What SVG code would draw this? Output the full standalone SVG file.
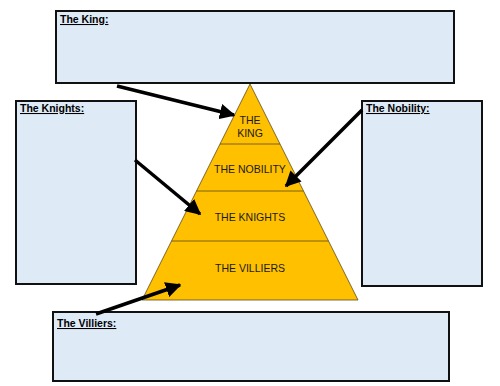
<svg xmlns="http://www.w3.org/2000/svg" width="500" height="386" viewBox="0 0 500 386">
<style>
.box{fill:#DEEAF6;stroke:#111;stroke-width:2}
.ttl{font-family:"Liberation Sans",Arial,sans-serif;font-weight:bold;font-size:10.5px;text-decoration:underline;fill:#000}
.lvl{font-family:"Liberation Sans",Arial,sans-serif;font-size:10.5px;fill:#1a1a1a;text-anchor:middle}
.con{stroke:#000;stroke-width:3.5;fill:none;marker-end:url(#ah)}
</style>
<defs>
<marker id="ah" viewBox="0 0 10 10" refX="9" refY="5" markerWidth="4.5" markerHeight="4.5" orient="auto" markerUnits="strokeWidth">
<path d="M0,0 L10,5 L0,10 z" fill="#000"/>
</marker>
</defs>
<rect width="500" height="386" fill="#fff"/>
<g id="pyramid">
<path d="M250,84 L358,300 L142,300 Z" fill="#FFC000" stroke="#5a4a1a" stroke-width="0.8"/>
<line x1="220" y1="144" x2="280" y2="144" stroke="#5a4a1a" stroke-width="0.8"/>
<line x1="196.5" y1="191" x2="303.5" y2="191" stroke="#5a4a1a" stroke-width="0.8"/>
<line x1="171.5" y1="241" x2="328.5" y2="241" stroke="#5a4a1a" stroke-width="0.8"/>
<text class="lvl" x="250" y="124">THE</text>
<text class="lvl" x="250" y="137">KING</text>
<text class="lvl" x="250" y="173">THE NOBILITY</text>
<text class="lvl" x="250" y="221">THE KNIGHTS</text>
<text class="lvl" x="250" y="272">THE VILLIERS</text>
</g>
<g id="king">
<rect class="box" x="56" y="11" width="398" height="72"/>
<text class="ttl" x="60" y="23">The King:</text>
</g>
<g id="knights">
<rect class="box" x="16" y="101" width="120" height="183"/>
<text class="ttl" x="20" y="112">The Knights:</text>
</g>
<g id="nobility">
<rect class="box" x="362" y="101" width="120" height="185"/>
<text class="ttl" x="366" y="112">The Nobility:</text>
</g>
<g id="villiers">
<rect class="box" x="53" y="312" width="396" height="69"/>
<text class="ttl" x="57" y="327">The Villiers:</text>
</g>
<g id="connectors">
<line class="con" x1="117" y1="86" x2="234" y2="115"/>
<line class="con" x1="135" y1="160" x2="200" y2="214"/>
<line class="con" x1="362" y1="110" x2="286" y2="186"/>
<line class="con" x1="96" y1="314" x2="180" y2="285"/>
</g>
</svg>
